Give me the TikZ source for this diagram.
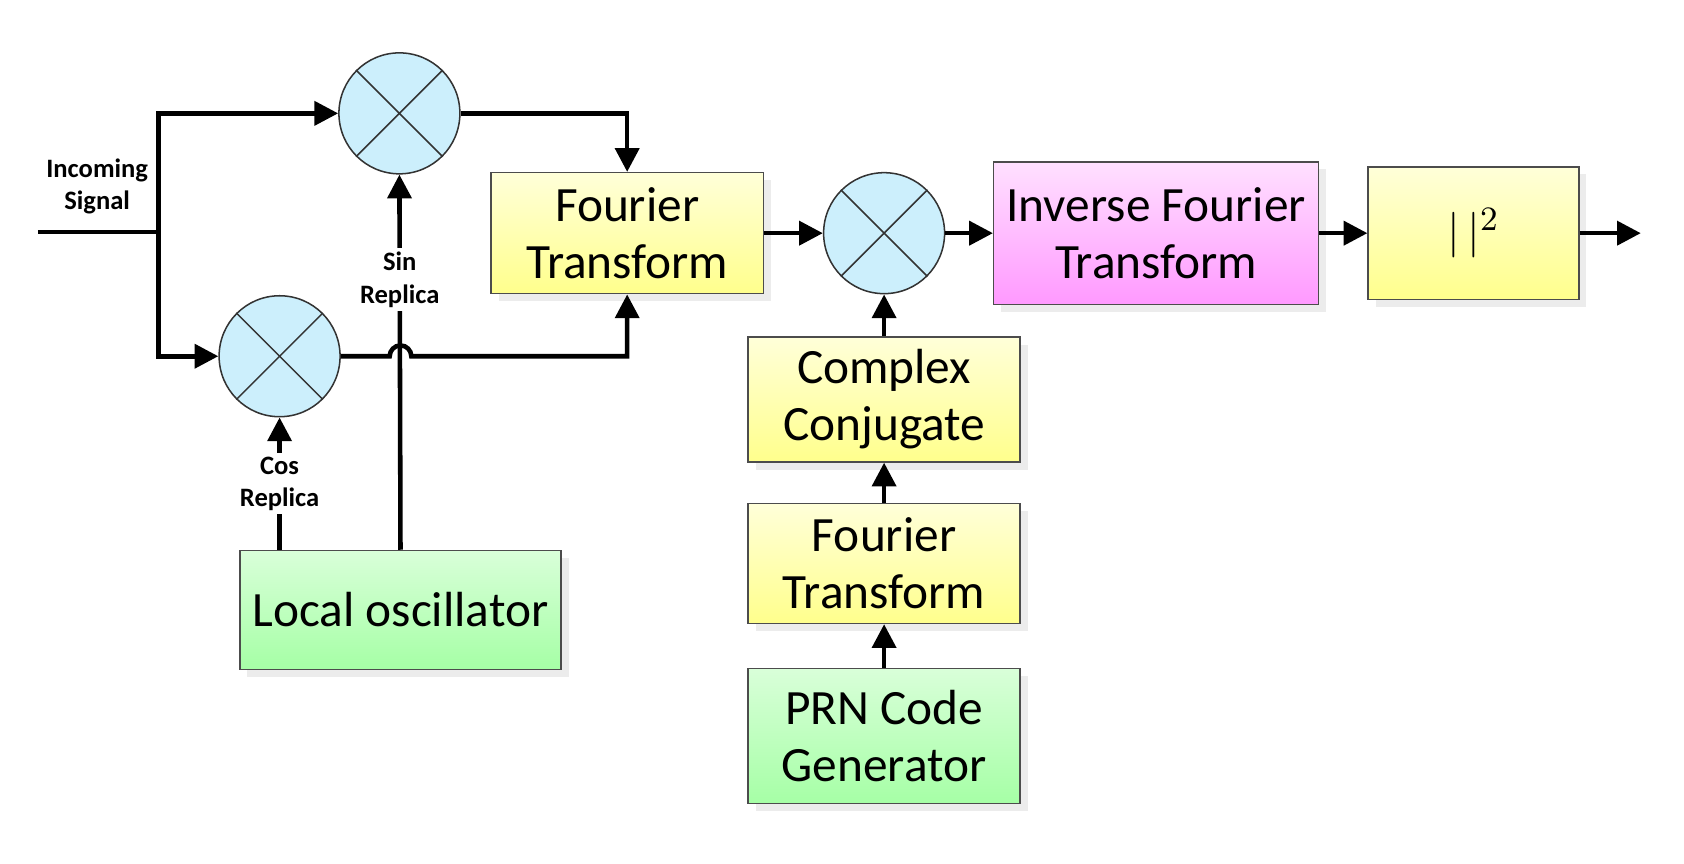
\documentclass[tikz,border=0pt]{standalone}
\usepackage{fontspec}
\setmainfont{Carlito}
\usetikzlibrary{arrows.meta,shadows,calc}

\begin{document}
\begin{tikzpicture}[x=0.01cm,y=-0.01cm]
		\tikzstyle{block}=[draw=black!70,thin,rectangle,align=center,
							font=\fontsize{13}{15}\selectfont,
							drop shadow={shadow xshift=2pt,shadow yshift=-2pt,fill=black!15}]
		\tikzstyle{yellowbox}=[block,top color=yellow!15,bottom color=yellow!45]
		\tikzstyle{greenbox}=[block,top color=green!15,bottom color=green!35]
		\tikzstyle{pinkbox}=[block,top color=magenta!12,bottom color=magenta!40]
		\tikzstyle{mixer}=[circle,draw=black!80,thin,fill=cyan!20,minimum size=1.12cm,inner sep=0pt]
		\tikzstyle{label}=[fill=white,align=center,inner sep=1pt,
							font=\fontsize{7}{8.5}\selectfont\bfseries]
		\tikzstyle{wire}=[line width=1.2pt]
		\tikzstyle{arrow}=[wire,-{Triangle[length=0.22cm,width=0.22cm]}]

		\useasboundingbox (0,0) rectangle (1560,800);

		% mixers
		\foreach \name/\x/\y in {mixsin/370/105, mixcos/259/330, mixcorr/819/216}{
			\node[mixer] (\name) at (\x,\y) {};
			\draw[black!80,thin] (\name.north west) -- (\name.south east)
				(\name.north east) -- (\name.south west);
		}

		% blocks
		\node[yellowbox,minimum width=2.52cm,minimum height=1.12cm] (fft) at (581,216) {Fourier\\Transform};
		\node[greenbox,minimum width=2.94cm,minimum height=1.10cm] (lo) at (371,565) {Local oscillator};
		\node[pinkbox,minimum width=2.94cm,minimum height=1.32cm] (ifft) at (1071,216) {Inverse Fourier\\Transform};
		\node[yellowbox,minimum width=1.95cm,minimum height=1.23cm] (abs) at (1365,216) {$|\,|^2$};
		\node[yellowbox,minimum width=2.52cm,minimum height=1.10cm] (conj) at (819,370) {Complex\\Conjugate};
		\node[yellowbox,minimum width=2.52cm,minimum height=1.11cm] (fftcode) at (819,522) {Fourier\\Transform};
		\node[greenbox,minimum width=2.52cm,minimum height=1.25cm] (prn) at (819,682) {PRN Code\\Generator};

		% input split
		\coordinate (in) at (35,215);
		\coordinate (split) at (147,215);
		\node[label] (inlabel) at (90,173) {Incoming\\Signal};
		\draw[wire] (in) -- (split);
		\draw[arrow] (split) |- (mixsin.west);
		\draw[arrow] (split) |- (mixcos.west);

		% replicas
		\draw[arrow] (lo.north) -- (mixsin.south)
			node[label,pos=0.72] (sinlabel) {Sin\\Replica};
		\draw[arrow] (lo.north -| mixcos) -- (mixcos.south)
			node[label,pos=0.5] (coslabel) {Cos\\Replica};

		% into the transform
		\draw[arrow] (mixsin.east) -| (fft.north);
		\draw[arrow] (mixcos.east) -- ($(mixcos.east -| lo.north)+(-10,0)$)
			arc[start angle=180,end angle=0,radius=0.1cm] -| (fft.south);

		% correlation chain
		\draw[arrow] (fft.east) -- (mixcorr.west);
		\draw[arrow] (mixcorr.east) -- (ifft.west);
		\draw[arrow] (ifft.east) -- (abs.west);
		\coordinate (out) at (1520,216);
		\draw[arrow] (abs.east) -- (out);
		\draw[arrow] (prn.north) -- (fftcode.south);
		\draw[arrow] (fftcode.north) -- (conj.south);
		\draw[arrow] (conj.north) -- (mixcorr.south);
\end{tikzpicture}
\end{document}
